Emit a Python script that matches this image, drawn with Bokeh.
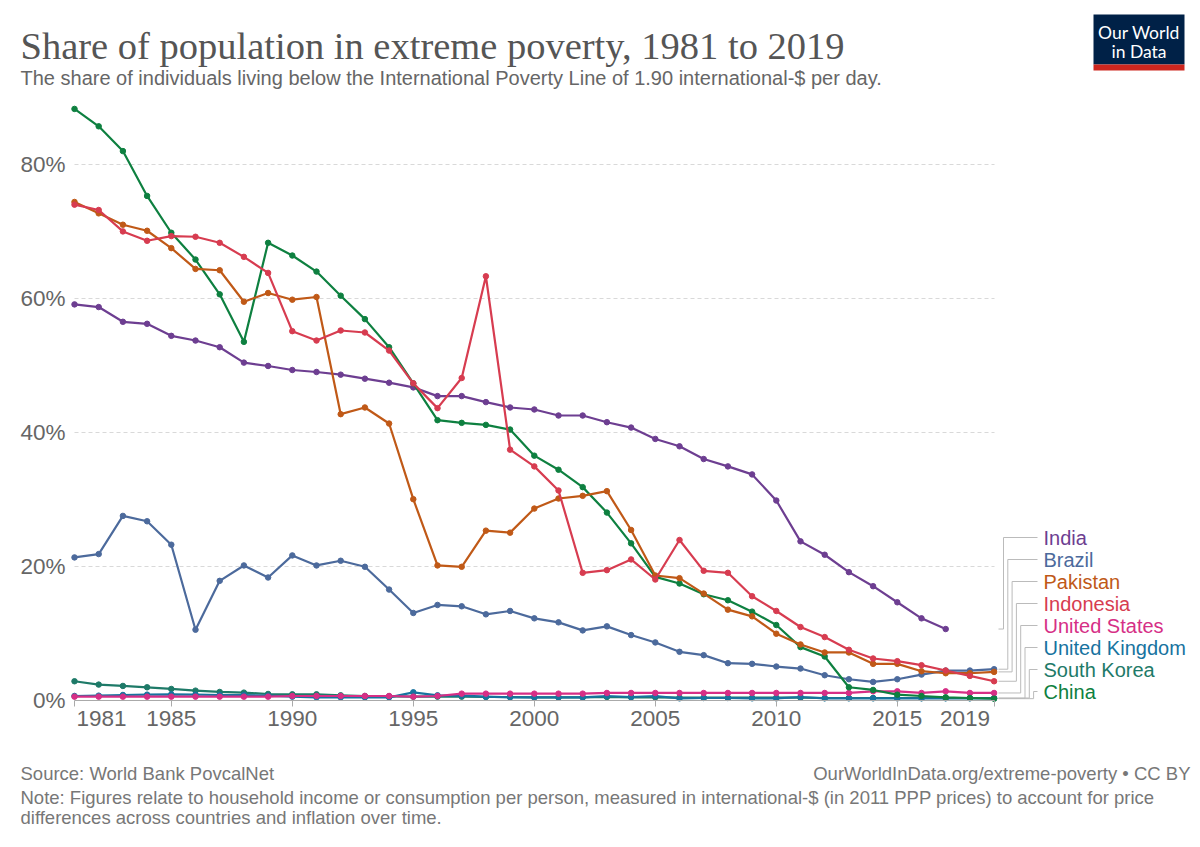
import numpy as np
from bokeh.plotting import figure
from bokeh.models import Range1d, FixedTicker, PrintfTickFormatter, Label, ColumnDataSource
from bokeh.core.properties import value
from bokeh.embed import file_html
from bokeh.resources import INLINE

# ---------------- data ----------------
years = list(range(1981, 2020))

india = [59.1, 58.7, 56.5, 56.2, 54.4, 53.7, 52.7, 50.4, 49.9, 49.3,
         49.0, 48.6, 48.0, 47.4, 46.7, 45.4, 45.4, 44.5, 43.7, 43.4,
         42.5, 42.5, 41.5, 40.7, 39.0, 37.9, 36.0, 34.9, 33.7, 29.8,
         23.7, 21.7, 19.1, 17.0, 14.6, 12.2, 10.6, None, None]
brazil = [21.3, 21.8, 27.5, 26.7, 23.2, 10.5, 17.8, 20.1, 18.3, 21.6,
          20.1, 20.8, 19.9, 16.5, 13.0, 14.2, 14.0, 12.8, 13.3, 12.2,
          11.6, 10.4, 11.0, 9.7, 8.6, 7.2, 6.7, 5.5, 5.4, 5.0,
          4.7, 3.7, 3.1, 2.7, 3.1, 3.8, 4.4, 4.4, 4.6]
pakistan = [74.4, 72.7, 71.0, 70.1, 67.5, 64.4, 64.2, 59.5, 60.8, 59.8,
            60.2, 42.7, 43.7, 41.3, 30.0, 20.1, 19.9, 25.3, 25.0, 28.6,
            30.1, 30.5, 31.2, 25.4, 18.6, 18.2, 15.9, 13.5, 12.5, 9.9,
            8.3, 7.1, 7.1, 5.4, 5.4, 4.3, 4.0, 4.0, 4.2]
indonesia = [74.0, 73.2, 70.0, 68.6, 69.3, 69.2, 68.3, 66.2, 63.8, 55.1,
             53.7, 55.2, 54.9, 52.2, 47.3, 43.6, 48.1, 63.3, 37.4, 34.9,
             31.3, 19.0, 19.4, 21.0, 18.0, 23.9, 19.3, 19.0, 15.5, 13.3,
             10.9, 9.4, 7.5, 6.2, 5.8, 5.2, 4.4, 3.6, 2.8]
united_states = [0.5, 0.5, 0.5, 0.5, 0.5, 0.5, 0.5, 0.5, 0.5, 0.6,
                 0.6, 0.6, 0.6, 0.6, 0.5, 0.6, 0.95, 0.95, 0.95, 0.95,
                 0.95, 0.95, 1.05, 1.05, 1.05, 1.05, 1.05, 1.05, 1.05, 1.05,
                 1.05, 1.05, 1.05, 1.3, 1.3, 1.05, 1.3, 1.05, 1.05]
united_kingdom = [0.6, 0.65, 0.75, 0.8, 0.85, 0.8, 0.75, 0.75, 0.65, 0.5,
                  0.4, 0.4, 0.4, 0.4, 1.15, 0.7, 0.65, 0.5, 0.4, 0.4,
                  0.4, 0.4, 0.6, 0.45, 0.6, 0.25, 0.3, 0.3, 0.25, 0.25,
                  0.45, 0.25, 0.25, 0.25, 0.25, 0.25, 0.25, 0.25, 0.25]
south_korea = [2.8, 2.3, 2.1, 1.9, 1.65, 1.4, 1.2, 1.1, 0.9, 0.85,
               0.85, 0.7, 0.6, 0.55, 0.5, 0.5, 0.5, 0.45, 0.45, 0.4,
               0.4, 0.4, 0.45, 0.4, 0.4, 0.35, 0.35, 0.35, 0.35, 0.35,
               0.35, 0.3, 0.3, 0.3, 0.3, 0.3, 0.3, 0.3, 0.3]
china = [88.3, 85.7, 82.0, 75.3, 69.8, 65.8, 60.6, 53.5, 68.3, 66.4,
         64.0, 60.4, 56.9, 52.7, 47.3, 41.8, 41.4, 41.1, 40.4, 36.5,
         34.4, 31.8, 28.0, 23.4, 18.4, 17.4, 15.8, 14.9, 13.2, 11.2,
         7.9, 6.5, 1.9, 1.5, 0.8, 0.6, 0.4, 0.3, 0.2]

names = ["India", "Brazil", "Pakistan", "Indonesia", "United States",
         "United Kingdom", "South Korea", "China"]
series = [india, brazil, pakistan, indonesia, united_states,
          united_kingdom, south_korea, china]
colors = ["#6D3E91", "#4C6A9C", "#C05917", "#D73C50", "#D62F86",
          "#17739F", "#1E7A68", "#0E8040"]

x_ticks = [1981, 1985, 1990, 1995, 2000, 2005, 2010, 2015, 2019]
y_ticks = [0, 20, 40, 60, 80]
grid_ticks = [20, 40, 60, 80]

title = "Share of population in extreme poverty, 1981 to 2019"
subtitle = ("The share of individuals living below the International Poverty Line "
            "of 1.90 international-$ per day.")
source_txt = "Source: World Bank PovcalNet"
url_txt = "OurWorldInData.org/extreme-poverty \u2022 CC BY"
note1 = ("Note: Figures relate to household income or consumption per person, measured in "
         "international-$ (in 2011 PPP prices) to account for price")
note2 = "differences across countries and inflation over time."

# ---------------- layout ----------------
W, H = 1200, 847
X0_PX = 74.0        # pixel of first year
PPY = 24.2          # pixels per year
Y0_PX = 699.5       # pixel of 0 %
PPP = 6.694         # pixels per percentage point

# the frame covers the whole canvas; axes are pinned at fixed locations
X_START = years[0] - X0_PX / PPY
X_END = years[0] + (W - X0_PX) / PPY
Y_START = -(H - Y0_PX) / PPP
Y_END = Y0_PX / PPP


def dx(px):
    return years[0] + (px - X0_PX) / PPY


def dy(py):
    return (Y0_PX - py) / PPP


SANS = "Liberation Sans"
TICK_SIZE = "22.5px"

p = figure(width=W, height=H, output_backend="svg", toolbar_location=None,
           x_range=Range1d(X_START, X_END), y_range=Range1d(Y_START, Y_END),
           min_border_left=0, min_border_right=0, min_border_top=0,
           min_border_bottom=0)
p.outline_line_color = None
p.background_fill_color = "white"
p.border_fill_color = "white"

# y axis
ya = p.yaxis[0]
ya.ticker = FixedTicker(ticks=y_ticks)
ya.formatter = PrintfTickFormatter(format="%d%%")
ya.fixed_location = years[0]
ya.axis_line_color = None
ya.major_tick_line_color = None
ya.minor_tick_line_color = None
ya.major_tick_out = 0
ya.major_tick_in = 0
ya.major_label_standoff = 9
ya.major_label_text_font = SANS
ya.major_label_text_font_size = TICK_SIZE
ya.major_label_text_color = "#666666"

# x axis
xa = p.xaxis[0]
xa.ticker = FixedTicker(ticks=x_ticks)
xa.bounds = (years[0], years[-1])
xa.fixed_location = 0
xa.axis_line_color = "#aaaaaa"
xa.major_tick_line_color = "#aaaaaa"
xa.minor_tick_line_color = None
xa.major_tick_out = 6
xa.major_tick_in = 0
xa.major_label_standoff = 5
xa.major_label_text_font = SANS
xa.major_label_text_font_size = TICK_SIZE
xa.major_label_text_color = "#666666"
xa.major_label_overrides = {x_ticks[0]: "", x_ticks[-1]: ""}

for txt, xv, align, off in [(str(x_ticks[0]), x_ticks[0], "left", 2),
                            (str(x_ticks[-1]), x_ticks[-1], "right", -4)]:
    p.add_layout(Label(x=xv, y=0, x_offset=off, y_offset=-11, text=txt,
                       text_align=align, text_baseline="top",
                       text_font=SANS, text_font_size=TICK_SIZE, text_color="#666666"))

# grid
p.xgrid.visible = False
g = p.ygrid[0]
g.ticker = FixedTicker(ticks=grid_ticks)
g.grid_line_color = "#d9d9d9"
g.grid_line_dash = "4 3"
g.grid_line_width = 1
try:
    g.cross_bounds = (years[0], years[-1])
except Exception:
    g.visible = False
    p.segment(x0=[years[0]] * len(grid_ticks), x1=[years[-1]] * len(grid_ticks),
              y0=grid_ticks, y1=grid_ticks, line_color="#d9d9d9",
              line_dash="4 3", line_width=1)

# series
draw_order = [6, 5, 4, 1, 0, 7, 2, 3]
for i in draw_order:
    vals = [np.nan if v is None else v for v in series[i]]
    src = ColumnDataSource(dict(x=years, y=vals))
    p.line("x", "y", source=src, line_color=colors[i], line_width=2.2,
           line_join="round")
    p.scatter("x", "y", source=src, size=5.5, fill_color=colors[i],
              line_color=colors[i])

# legend with leader lines
LEG_TOP_PX = 537
LEG_STEP_PX = 22
lxs, lys = [], []
for i, vals in enumerate(series):
    last = [v for v in vals if v is not None][-1]
    ly = dy(LEG_TOP_PX + LEG_STEP_PX * i)
    vx = dx(1003 + 4.3 * i)
    lxs.append([dx(998), vx, vx, dx(1037)])
    lys.append([last, last, ly, ly])
p.multi_line(lxs, lys, line_color="#bbbbbb", line_width=1)
p.text(x=[dx(1043)] * len(names),
       y=[dy(LEG_TOP_PX + LEG_STEP_PX * i) for i in range(len(names))],
       text=names, text_color=colors, text_font=value(SANS),
       text_font_size="20px", text_baseline="middle", text_align="left")

# logo
p.quad(left=[dx(1093)], right=[dx(1184)], top=[dy(14)], bottom=[dy(64)],
       fill_color="#002147", line_color=None)
p.quad(left=[dx(1093)], right=[dx(1184)], top=[dy(64)], bottom=[dy(70)],
       fill_color="#CE261E", line_color=None)
for t, yy in [("Our World", 32), ("in Data", 51)]:
    p.add_layout(Label(x=dx(1138.5), y=dy(yy), text=t, text_align="center",
                       text_baseline="middle", text_font="Lato",
                       text_font_size="17.5px", text_color="white"))


# titles and footer
def add_text(txt, px, py, size, color, font=SANS, align="left", baseline="middle"):
    p.add_layout(Label(x=dx(px), y=dy(py), text=txt, text_align=align,
                       text_baseline=baseline, text_font=font,
                       text_font_size=size, text_color=color))


add_text(title, 20, 45, "38.5px", "#555555", font="Liberation Serif")
add_text(subtitle, 20, 77, "20px", "#666666")
add_text(source_txt, 20, 773, "18.5px", "#777777")
add_text(url_txt, 1190, 773, "18.5px", "#777777", align="right")
add_text(note1, 20, 797, "18.5px", "#777777")
add_text(note2, 20, 817, "18.5px", "#777777")

open("out.html", "w").write(file_html(p, INLINE))
